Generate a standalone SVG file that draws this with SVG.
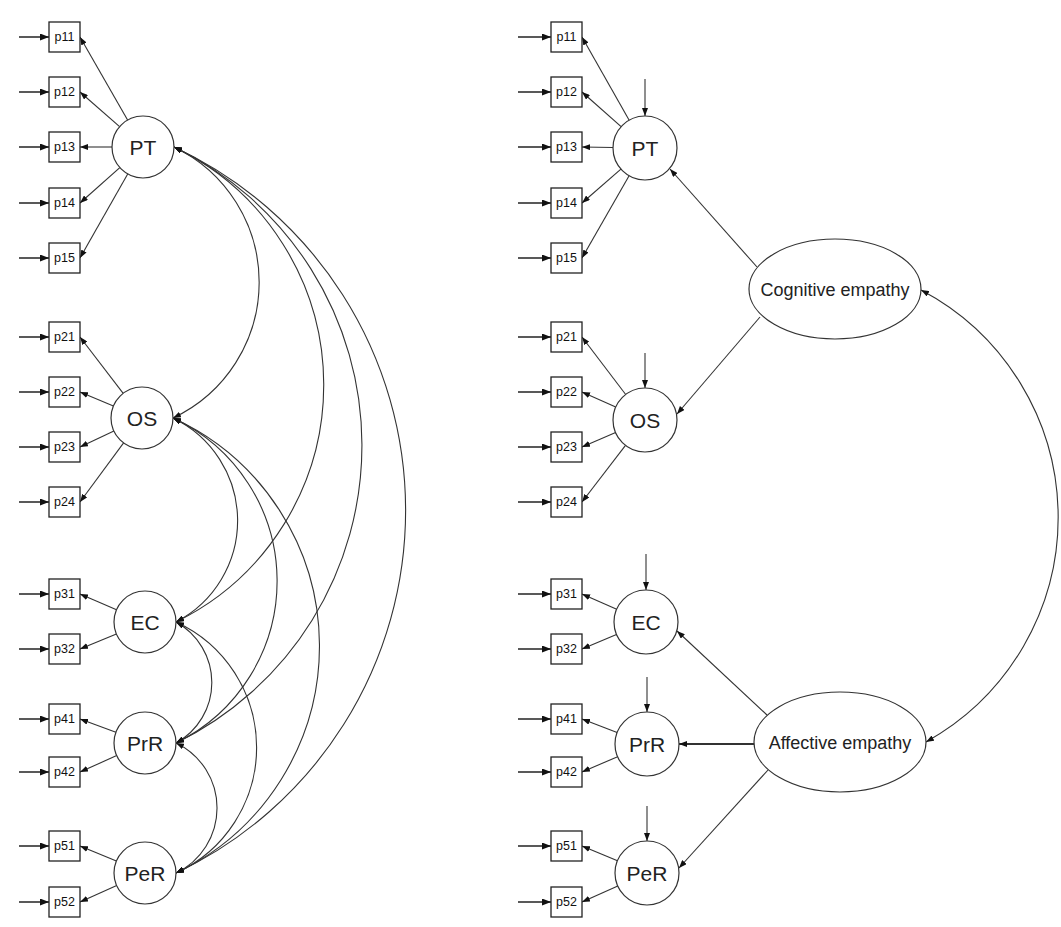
<svg xmlns="http://www.w3.org/2000/svg" width="1061" height="927" viewBox="0 0 1061 927">
<defs>
<style>
.bx{fill:#fff;stroke:#222;stroke-width:1.3}
.lv{fill:#fff;stroke:#333;stroke-width:1.2}
.bt{font-family:"Liberation Sans",Arial,sans-serif;font-size:12.5px;fill:#111;text-anchor:middle}
.ct{font-family:"Liberation Sans",Arial,sans-serif;font-size:21px;fill:#222;text-anchor:middle}
.et{font-family:"Liberation Sans",Arial,sans-serif;font-size:18px;fill:#222;text-anchor:middle}
.ln{fill:none;stroke:#333;stroke-width:1.1;marker-end:url(#ah)}
.in line{stroke:#222;stroke-width:1.5;marker-end:url(#ab)}
.cv{fill:none;stroke:#333;stroke-width:1.1;marker-start:url(#ah);marker-end:url(#ah)}
</style>
<marker id="ah" markerUnits="userSpaceOnUse" markerWidth="8" markerHeight="6" refX="8" refY="3" orient="auto-start-reverse"><path d="M0,0 L8,3 L0,6 z" fill="#111"/></marker>
<marker id="ab" markerUnits="userSpaceOnUse" markerWidth="9" markerHeight="7" refX="9" refY="3.5" orient="auto"><path d="M0,0 L9,3.5 L0,7 z" fill="#111"/></marker>
</defs>
<rect width="1061" height="927" fill="#fff"/>

<g id="connectors">
<g class="in">
<line x1="19" y1="37" x2="49" y2="37"/><line x1="19" y1="92" x2="49" y2="92"/><line x1="19" y1="147" x2="49" y2="147"/><line x1="19" y1="203" x2="49" y2="203"/><line x1="19" y1="258" x2="49" y2="258"/>
<line x1="19" y1="337" x2="49" y2="337"/><line x1="19" y1="392" x2="49" y2="392"/><line x1="19" y1="447" x2="49" y2="447"/><line x1="19" y1="502" x2="49" y2="502"/>
<line x1="19" y1="594" x2="49" y2="594"/><line x1="19" y1="649" x2="49" y2="649"/><line x1="19" y1="719" x2="49" y2="719"/><line x1="19" y1="772" x2="49" y2="772"/>
<line x1="19" y1="846" x2="49" y2="846"/><line x1="19" y1="902" x2="49" y2="902"/>
<line x1="518" y1="37" x2="551" y2="37"/><line x1="518" y1="92" x2="551" y2="92"/><line x1="518" y1="147" x2="551" y2="147"/><line x1="518" y1="203" x2="551" y2="203"/><line x1="518" y1="258" x2="551" y2="258"/>
<line x1="518" y1="337" x2="551" y2="337"/><line x1="518" y1="392" x2="551" y2="392"/><line x1="518" y1="447" x2="551" y2="447"/><line x1="518" y1="502" x2="551" y2="502"/>
<line x1="518" y1="594" x2="551" y2="594"/><line x1="518" y1="649" x2="551" y2="649"/><line x1="518" y1="719" x2="551" y2="719"/><line x1="518" y1="772" x2="551" y2="772"/>
<line x1="518" y1="846" x2="551" y2="846"/><line x1="518" y1="902" x2="551" y2="902"/>
</g>
<!-- left loadings -->
<line class="ln" x1="127.6" y1="120.1" x2="80" y2="37"/>
<line class="ln" x1="119.6" y1="126.6" x2="80" y2="92"/>
<line class="ln" x1="112" y1="147" x2="80" y2="147"/>
<line class="ln" x1="119.8" y1="167.6" x2="80" y2="203"/>
<line class="ln" x1="127.7" y1="174" x2="80" y2="258"/>
<line class="ln" x1="123.2" y1="393.4" x2="80" y2="337"/>
<line class="ln" x1="113.4" y1="406" x2="80" y2="392"/>
<line class="ln" x1="113.9" y1="431.1" x2="80" y2="447"/>
<line class="ln" x1="123.6" y1="442.9" x2="80" y2="502"/>
<line class="ln" x1="116.5" y1="609.7" x2="80" y2="594"/>
<line class="ln" x1="116.4" y1="633.9" x2="80" y2="649"/>
<line class="ln" x1="115.9" y1="732.3" x2="80" y2="719"/>
<line class="ln" x1="116.7" y1="755.6" x2="80" y2="772"/>
<line class="ln" x1="116.4" y1="861.1" x2="80" y2="846"/>
<line class="ln" x1="116.7" y1="885.6" x2="80" y2="902"/>
<!-- left covariances -->
<path class="cv" d="M174,147 A150,150 0 0 1 173,418"/>
<path class="cv" d="M174,147 A264,264 0 0 1 176,622"/>
<path class="cv" d="M174,147 A331,331 0 0 1 176,743"/>
<path class="cv" d="M174,147 A401,401 0 0 1 176,873"/>
<path class="cv" d="M173,418 A114,114 0 0 1 176,622"/>
<path class="cv" d="M173,418 A180,180 0 0 1 176,743"/>
<path class="cv" d="M173,418 A251,251 0 0 1 176,873"/>
<path class="cv" d="M176,622 A69,69 0 0 1 176,743"/>
<path class="cv" d="M176,622 A138,138 0 0 1 176,873"/>
<path class="cv" d="M176,743 A72,72 0 0 1 176,873"/>
<!-- right loadings -->
<line class="ln" x1="629.2" y1="120.2" x2="582" y2="37"/>
<line class="ln" x1="621.1" y1="126.7" x2="582" y2="92"/>
<line class="ln" x1="613" y1="147.5" x2="582" y2="147"/>
<line class="ln" x1="620.9" y1="169.1" x2="582" y2="203"/>
<line class="ln" x1="629.1" y1="175.8" x2="582" y2="258"/>
<line class="ln" x1="625.7" y1="394.5" x2="582" y2="337"/>
<line class="ln" x1="615.7" y1="407" x2="582" y2="392"/>
<line class="ln" x1="615.6" y1="432.6" x2="582" y2="447"/>
<line class="ln" x1="625.5" y1="445.4" x2="582" y2="502"/>
<line class="ln" x1="616.7" y1="609.2" x2="582" y2="594"/>
<line class="ln" x1="616.5" y1="634.4" x2="582" y2="649"/>
<line class="ln" x1="617.1" y1="732.5" x2="582" y2="719"/>
<line class="ln" x1="617.6" y1="756.7" x2="582" y2="772"/>
<line class="ln" x1="617.5" y1="860.7" x2="582" y2="846"/>
<line class="ln" x1="617.8" y1="886" x2="582" y2="902"/>
<!-- disturbances -->
<line class="ln" x1="645" y1="79" x2="645" y2="116"/>
<line class="ln" x1="645" y1="353" x2="645" y2="388"/>
<line class="ln" x1="646" y1="554" x2="646" y2="590"/>
<line class="ln" x1="647" y1="677" x2="647" y2="712"/>
<line class="ln" x1="647" y1="806" x2="647" y2="841"/>
<!-- second-order loadings -->
<line class="ln" x1="757" y1="267" x2="670" y2="169"/>
<line class="ln" x1="760" y1="317" x2="677" y2="414"/>
<line class="ln" x1="767" y1="715" x2="677" y2="631"/>
<line class="ln" x1="754" y1="744" x2="679" y2="744" style="stroke-width:2"/>
<line class="ln" x1="768" y1="770" x2="679" y2="868"/>
<!-- second-order covariance -->
<path class="cv" d="M921,290 A257,257 0 0 1 926,742"/>
</g>

<g id="left-items">
<g id="L-p11"><rect class="bx" x="49" y="22" width="31" height="30"/><text class="bt" x="64.5" y="41">p11</text></g>
<g id="L-p12"><rect class="bx" x="49" y="77" width="31" height="30"/><text class="bt" x="64.5" y="96">p12</text></g>
<g id="L-p13"><rect class="bx" x="49" y="132" width="31" height="30"/><text class="bt" x="64.5" y="151">p13</text></g>
<g id="L-p14"><rect class="bx" x="49" y="188" width="31" height="30"/><text class="bt" x="64.5" y="207">p14</text></g>
<g id="L-p15"><rect class="bx" x="49" y="243" width="31" height="30"/><text class="bt" x="64.5" y="262">p15</text></g>
<g id="L-p21"><rect class="bx" x="49" y="322" width="31" height="30"/><text class="bt" x="64.5" y="341">p21</text></g>
<g id="L-p22"><rect class="bx" x="49" y="377" width="31" height="30"/><text class="bt" x="64.5" y="396">p22</text></g>
<g id="L-p23"><rect class="bx" x="49" y="432" width="31" height="30"/><text class="bt" x="64.5" y="451">p23</text></g>
<g id="L-p24"><rect class="bx" x="49" y="487" width="31" height="30"/><text class="bt" x="64.5" y="506">p24</text></g>
<g id="L-p31"><rect class="bx" x="49" y="579" width="31" height="30"/><text class="bt" x="64.5" y="598">p31</text></g>
<g id="L-p32"><rect class="bx" x="49" y="634" width="31" height="30"/><text class="bt" x="64.5" y="653">p32</text></g>
<g id="L-p41"><rect class="bx" x="49" y="704" width="31" height="30"/><text class="bt" x="64.5" y="723">p41</text></g>
<g id="L-p42"><rect class="bx" x="49" y="757" width="31" height="30"/><text class="bt" x="64.5" y="776">p42</text></g>
<g id="L-p51"><rect class="bx" x="49" y="831" width="31" height="30"/><text class="bt" x="64.5" y="850">p51</text></g>
<g id="L-p52"><rect class="bx" x="49" y="887" width="31" height="30"/><text class="bt" x="64.5" y="906">p52</text></g>
</g>

<g id="left-factors">
<g id="L-PT"><circle class="lv" cx="143" cy="147" r="31"/><text class="ct" x="143" y="154.5">PT</text></g>
<g id="L-OS"><circle class="lv" cx="142" cy="418" r="31"/><text class="ct" x="142" y="425.5">OS</text></g>
<g id="L-EC"><circle class="lv" cx="145" cy="622" r="31"/><text class="ct" x="145" y="629.5">EC</text></g>
<g id="L-PrR"><circle class="lv" cx="145" cy="743" r="31"/><text class="ct" x="145" y="750.5">PrR</text></g>
<g id="L-PeR"><circle class="lv" cx="145" cy="873" r="31"/><text class="ct" x="145" y="880.5">PeR</text></g>
</g>

<g id="right-items">
<g id="R-p11"><rect class="bx" x="551" y="22" width="31" height="30"/><text class="bt" x="566.5" y="41">p11</text></g>
<g id="R-p12"><rect class="bx" x="551" y="77" width="31" height="30"/><text class="bt" x="566.5" y="96">p12</text></g>
<g id="R-p13"><rect class="bx" x="551" y="132" width="31" height="30"/><text class="bt" x="566.5" y="151">p13</text></g>
<g id="R-p14"><rect class="bx" x="551" y="188" width="31" height="30"/><text class="bt" x="566.5" y="207">p14</text></g>
<g id="R-p15"><rect class="bx" x="551" y="243" width="31" height="30"/><text class="bt" x="566.5" y="262">p15</text></g>
<g id="R-p21"><rect class="bx" x="551" y="322" width="31" height="30"/><text class="bt" x="566.5" y="341">p21</text></g>
<g id="R-p22"><rect class="bx" x="551" y="377" width="31" height="30"/><text class="bt" x="566.5" y="396">p22</text></g>
<g id="R-p23"><rect class="bx" x="551" y="432" width="31" height="30"/><text class="bt" x="566.5" y="451">p23</text></g>
<g id="R-p24"><rect class="bx" x="551" y="487" width="31" height="30"/><text class="bt" x="566.5" y="506">p24</text></g>
<g id="R-p31"><rect class="bx" x="551" y="579" width="31" height="30"/><text class="bt" x="566.5" y="598">p31</text></g>
<g id="R-p32"><rect class="bx" x="551" y="634" width="31" height="30"/><text class="bt" x="566.5" y="653">p32</text></g>
<g id="R-p41"><rect class="bx" x="551" y="704" width="31" height="30"/><text class="bt" x="566.5" y="723">p41</text></g>
<g id="R-p42"><rect class="bx" x="551" y="757" width="31" height="30"/><text class="bt" x="566.5" y="776">p42</text></g>
<g id="R-p51"><rect class="bx" x="551" y="831" width="31" height="30"/><text class="bt" x="566.5" y="850">p51</text></g>
<g id="R-p52"><rect class="bx" x="551" y="887" width="31" height="30"/><text class="bt" x="566.5" y="906">p52</text></g>
</g>

<g id="right-factors">
<g id="R-PT"><circle class="lv" cx="645" cy="148" r="32"/><text class="ct" x="645" y="155.5">PT</text></g>
<g id="R-OS"><circle class="lv" cx="645" cy="420" r="32"/><text class="ct" x="645" y="427.5">OS</text></g>
<g id="R-EC"><circle class="lv" cx="646" cy="622" r="32"/><text class="ct" x="646" y="629.5">EC</text></g>
<g id="R-PrR"><circle class="lv" cx="647" cy="744" r="32"/><text class="ct" x="647" y="751.5">PrR</text></g>
<g id="R-PeR"><circle class="lv" cx="647" cy="873" r="32"/><text class="ct" x="647" y="880.5">PeR</text></g>
</g>

<g id="cognitive-empathy"><ellipse class="lv" cx="835" cy="289" rx="86" ry="50"/><text class="et" x="835" y="295.5">Cognitive empathy</text></g>
<g id="affective-empathy"><ellipse class="lv" cx="840" cy="742" rx="86" ry="50"/><text class="et" x="840" y="748.5">Affective empathy</text></g>
</svg>
